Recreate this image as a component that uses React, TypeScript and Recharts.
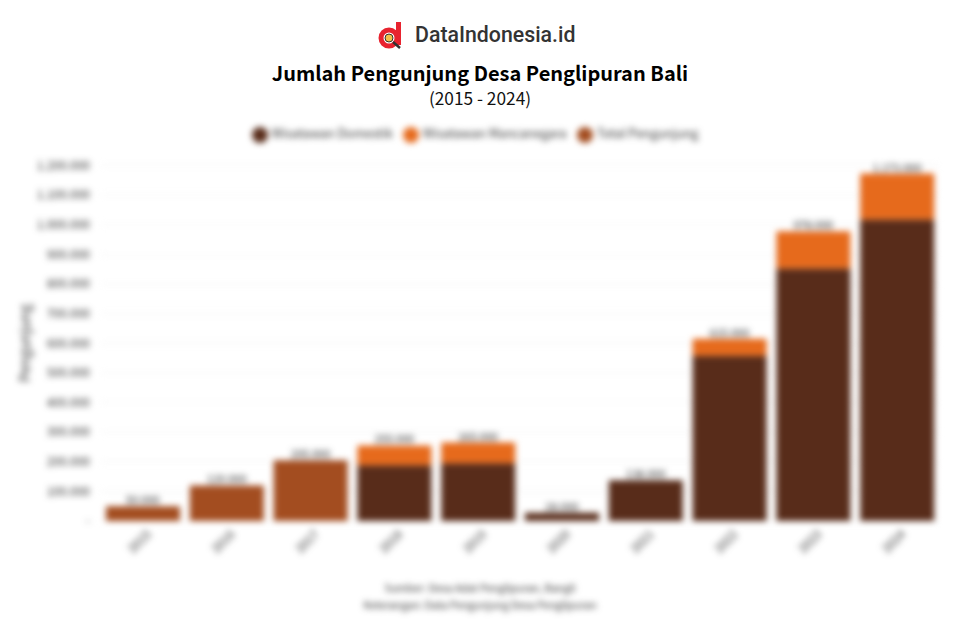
import { ComposedChart, Bar, Line, XAxis, YAxis, CartesianGrid, Legend, LabelList } from 'recharts'

const years = ['2015', '2016', '2017', '2018', '2019', '2020', '2021', '2022', '2023', '2024']
// rounded
const domestik = [null, null, null, 188000, 195000, 28000, 138000, 558000, 853000, 1018000]
const mancanegara = [null, null, null, 67000, 70000, null, null, 57000, 125000, 155000]
const totalOnly = [50000, 120000, 205000, null, null, null, null, null, null, null]
const totals = [50000, 120000, 205000, 255000, 265000, 28000, 138000, 615000, 978000, 1173000]
const yTicks = [0, 100000, 200000, 300000, 400000, 500000, 600000, 700000, 800000, 900000, 1000000, 1100000, 1200000]

const chartData = years.map((year, i) => ({
  year,
  domestik: domestik[i],
  mancanegara: mancanegara[i],
  totalOnly: totalOnly[i],
  total: totals[i],
}))

const FONT = '"Noto Sans CJK SC", "Noto Sans", sans-serif'

const formatId = (v: number) => (v === 0 ? '-' : v.toLocaleString('id-ID'))

function Logo() {
  return (
    <svg width={26} height={28} style={{ position: 'absolute', left: 376, top: 21 }}>
      <circle cx={13} cy={17} r={8} fill="none" stroke="#e8232f" strokeWidth={5} />
      <rect x={20} y={1} width={5} height={23} fill="#e8232f" />
      <circle cx={13} cy={17} r={4} fill="#f4c04a" stroke="#333" strokeWidth={1} />
      <line x1={17} y1={21} x2={24} y2={27} stroke="#333" strokeWidth={2.5} />
    </svg>
  )
}

export default function App() {
  return (
    <div style={{ position: 'absolute', left: 0, top: 0, width: 960, height: 620, background: '#fff', overflow: 'hidden', fontFamily: FONT }}>
      <Logo />
      <div style={{ position: 'absolute', left: 415, top: 20, fontFamily: 'Roboto', fontWeight: 500, fontSize: 21.3, lineHeight: '30px', color: '#333' }}>
        DataIndonesia.id
      </div>
      <div style={{ position: 'absolute', left: 0, width: 960, top: 61, textAlign: 'center', fontWeight: 700, fontSize: 20, lineHeight: '24px', color: '#000' }}>
        Jumlah Pengunjung Desa Penglipuran Bali
      </div>
      <div style={{ position: 'absolute', left: 0, width: 960, top: 88, textAlign: 'center', fontSize: 17.3, lineHeight: '20px', color: '#111' }}>
        (2015 - 2024)
      </div>

      <div style={{ position: 'absolute', left: 0, top: 0, width: 960, height: 620, filter: 'blur(3.4px)' }}>
        <ComposedChart
          width={960}
          height={620}
          data={chartData}
          barCategoryGap={5}
          margin={{ top: 146, right: 21, left: 0, bottom: 0 }}
        >
          <CartesianGrid vertical={false} stroke="#f0f0f0" />
          <XAxis
            dataKey="year"
            height={99}
            angle={-45}
            textAnchor="end"
            interval={0}
            axisLine={false}
            tickLine={false}
            tick={{ fill: '#333', fontSize: 12, fontFamily: FONT, dx: 3, dy: 0 }}
          />
          <YAxis
            width={101}
            domain={[0, 1200000]}
            ticks={yTicks}
            interval={0}
            tickFormatter={formatId}
            axisLine={false}
            tickLine={false}
            tick={{ fill: '#333', fontSize: 12, fontFamily: FONT, dx: -3 }}
            label={{ value: 'Pengunjung', angle: -90, position: 'insideLeft', offset: 25, style: { fill: '#333', fontSize: 14, fontFamily: FONT, textAnchor: 'middle' } }}
          />
          <Legend
            verticalAlign="top"
            iconType="circle"
            iconSize={16}
            itemSorter={null}
            wrapperStyle={{ top: 123, left: 0, width: 960, fontSize: 12.5, fontFamily: FONT, color: '#333' }}
            formatter={(value) => <span style={{ color: '#333' }}>{value}</span>}
          />
          <Bar dataKey="domestik" name="Wisatawan Domestik" stackId="a" fill="#582c1a" isAnimationActive={false} />
          <Bar dataKey="mancanegara" name="Wisatawan Mancanegara" stackId="a" fill="#e66a1c" isAnimationActive={false} />
          <Bar dataKey="totalOnly" name="Total Pengunjung" stackId="a" fill="#a34d20" isAnimationActive={false} />
          <Line dataKey="total" stroke="none" dot={false} activeDot={false} legendType="none" isAnimationActive={false}>
            <LabelList dataKey="total" position="top" offset={2} formatter={formatId} style={{ fill: '#222', fontSize: 11, fontFamily: FONT }} />
          </Line>
        </ComposedChart>
        <div style={{ position: 'absolute', left: 0, width: 960, top: 579, textAlign: 'center', fontSize: 10.5, lineHeight: '17px', color: '#333' }}>
          Sumber: Desa Adat Penglipuran, Bangli
          <br />
          Keterangan: Data Pengunjung Desa Penglipuran
        </div>
      </div>
    </div>
  )
}
